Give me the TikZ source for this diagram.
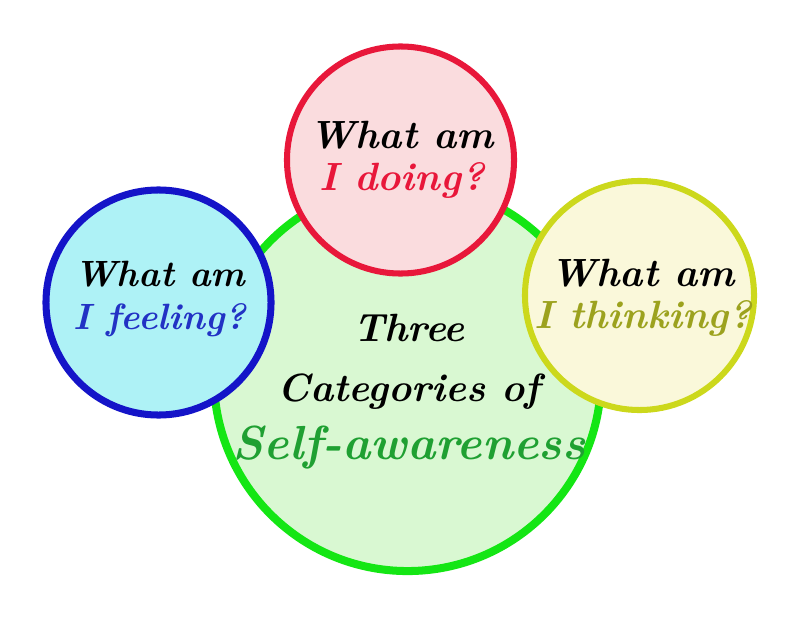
\documentclass[tikz,border=0pt]{standalone}
\usepackage{fontspec}
\usepackage{xcolor}
\usepackage{tikz}
\usetikzlibrary{positioning}

\definecolor{selfgreen}{HTML}{14E614}
\definecolor{selffill}{HTML}{D9F8D2}
\definecolor{selftext}{HTML}{1FA032}
\definecolor{doingred}{HTML}{E8173A}
\definecolor{doingfill}{HTML}{FADCDE}
\definecolor{feelblue}{HTML}{1414C8}
\definecolor{feelfill}{HTML}{AEF2F6}
\definecolor{feeltext}{HTML}{2232C4}
\definecolor{thinkyellow}{HTML}{CCD81C}
\definecolor{thinkfill}{HTML}{FAF8DA}
\definecolor{thinktext}{HTML}{9CA21E}

\tikzset{
	bubble/.style={circle, inner sep=0pt},
	ask/.style={align=center, font=\fontsize{28}{30}\selectfont\bfseries\itshape},
}

\begin{document}
\begin{tikzpicture}[x=0.025cm, y=-0.025cm]
	\useasboundingbox (0,0) rectangle (800,630);
	% the big circle first, the three questions on top
	\node[bubble, draw=selfgreen, fill=selffill, line width=5.7pt, minimum size=9.675cm] (self) at (407.5,377.5) {};
	\node[bubble, draw=feelblue, fill=feelfill, line width=5pt, minimum size=5.625cm] (feel) at (158.5,302.5) {};
	\node[bubble, draw=doingred, fill=doingfill, line width=4.3pt, minimum size=5.675cm] (doing) at (400.5,160) {};
	\node[bubble, draw=thinkyellow, fill=thinkfill, line width=4.3pt, minimum size=5.725cm] (think) at (639.5,295.5) {};

	\node[ask] (doingq) at (402,160) {What am\\\textcolor{doingred}{I doing?}};
	\node[ask, font=\fontsize{26}{30}\selectfont\bfseries\itshape] (feelq) at (160,299) {What am\\\textcolor{feeltext}{I feeling?}};
	\node[ask] (thinkq) at (643,298) {What am\\\textcolor{thinktext}{I thinking?}};
	\node[ask, font=\fontsize{28}{43}\selectfont\bfseries\itshape] (selfq) at (409,362) {Three\\Categories of};
	\node[font=\fontsize{34}{38}\selectfont\bfseries\itshape, text=selftext, below=4pt of selfq] (selfname) {Self-awareness};
\end{tikzpicture}
\end{document}
